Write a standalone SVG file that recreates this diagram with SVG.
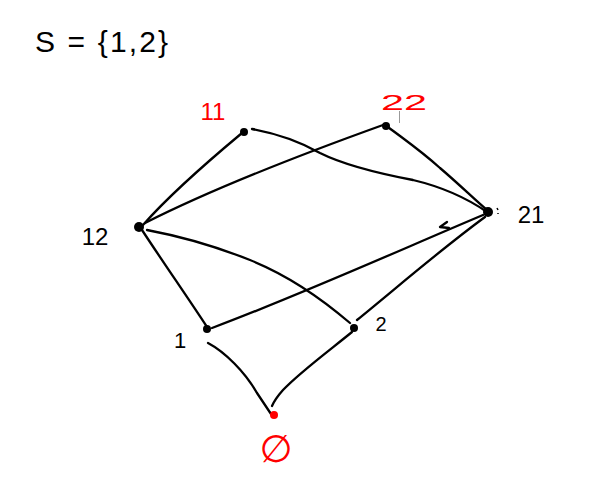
<svg xmlns="http://www.w3.org/2000/svg" width="600" height="482" viewBox="0 0 600 482">
<style>
.e{fill:none;stroke:#000;stroke-width:2.3;stroke-linecap:round;stroke-linejoin:round}
.d{fill:#000}
.r{fill:#f00}
.t{font-family:"Liberation Sans","DejaVu Sans",sans-serif;fill:#000}
.tr{font-family:"Liberation Sans","DejaVu Sans",sans-serif;fill:#f00}
</style>
<rect width="600" height="482" fill="#fff"/>
<text class="t" x="35" y="52" font-size="30" textLength="133" lengthAdjust="spacing">S = {1,2}</text>
<g id="edges">
<path class="e" d="M143,225 C165,200 200,168 242,133"/>
<path class="e" d="M145,223 Q230,180 383,125"/>
<path class="e" d="M147,230 Q200,240 250,260 T350,323"/>
<path class="e" d="M142,230 C163,262 188,298 207,327"/>
<path class="e" d="M212,328 C300,295 400,250 483,215"/>
<path class="e" d="M447,222 L440,227 L449,228"/>
<path class="e" d="M357,320 C400,285 440,250 485,217"/>
<path class="e" d="M252,129 Q290,136 320,153 Q350,168 413,180 Q455,190 487,212"/>
<path class="e" d="M388,127 C405,140 420,150 440,168 C460,185 475,200 487,210"/>
<path class="e" d="M208,343 C225,352 245,372 257,393 L271,414"/>
<path class="e" d="M352,332 C330,350 300,372 283,390 Q275,399 272,406"/>
</g>
<g id="n11"><circle class="d" cx="244" cy="132" r="4"/><text class="tr" x="213" y="120" font-size="24" text-anchor="middle">11</text></g>
<g id="n22"><circle class="d" cx="386" cy="126" r="4"/><text class="tr" x="381" y="110" font-size="22" textLength="46" lengthAdjust="spacingAndGlyphs">22</text><line x1="399.5" y1="111" x2="399.5" y2="123" stroke="#999" stroke-width="1"/></g>
<g id="n21"><circle class="d" cx="488" cy="212" r="5"/><path d="M497,208 l1,2 M498,213 l0,1" stroke="#000" stroke-width="1.5"/><text class="t" x="531" y="223" font-size="24" text-anchor="middle">21</text></g>
<g id="n12"><circle class="d" cx="139" cy="227" r="5"/><text class="t" x="95" y="245" font-size="24" text-anchor="middle">12</text></g>
<g id="n1"><circle class="d" cx="207" cy="329" r="4"/><text class="t" x="180" y="348" font-size="22" text-anchor="middle">1</text></g>
<g id="n2"><circle class="d" cx="354" cy="328" r="4"/><text class="t" x="381" y="331" font-size="20" text-anchor="middle">2</text></g>
<g id="nempty"><circle class="r" cx="274" cy="415" r="4"/><text class="tr" x="276" y="462" font-size="38" text-anchor="middle">∅</text></g>
</svg>
